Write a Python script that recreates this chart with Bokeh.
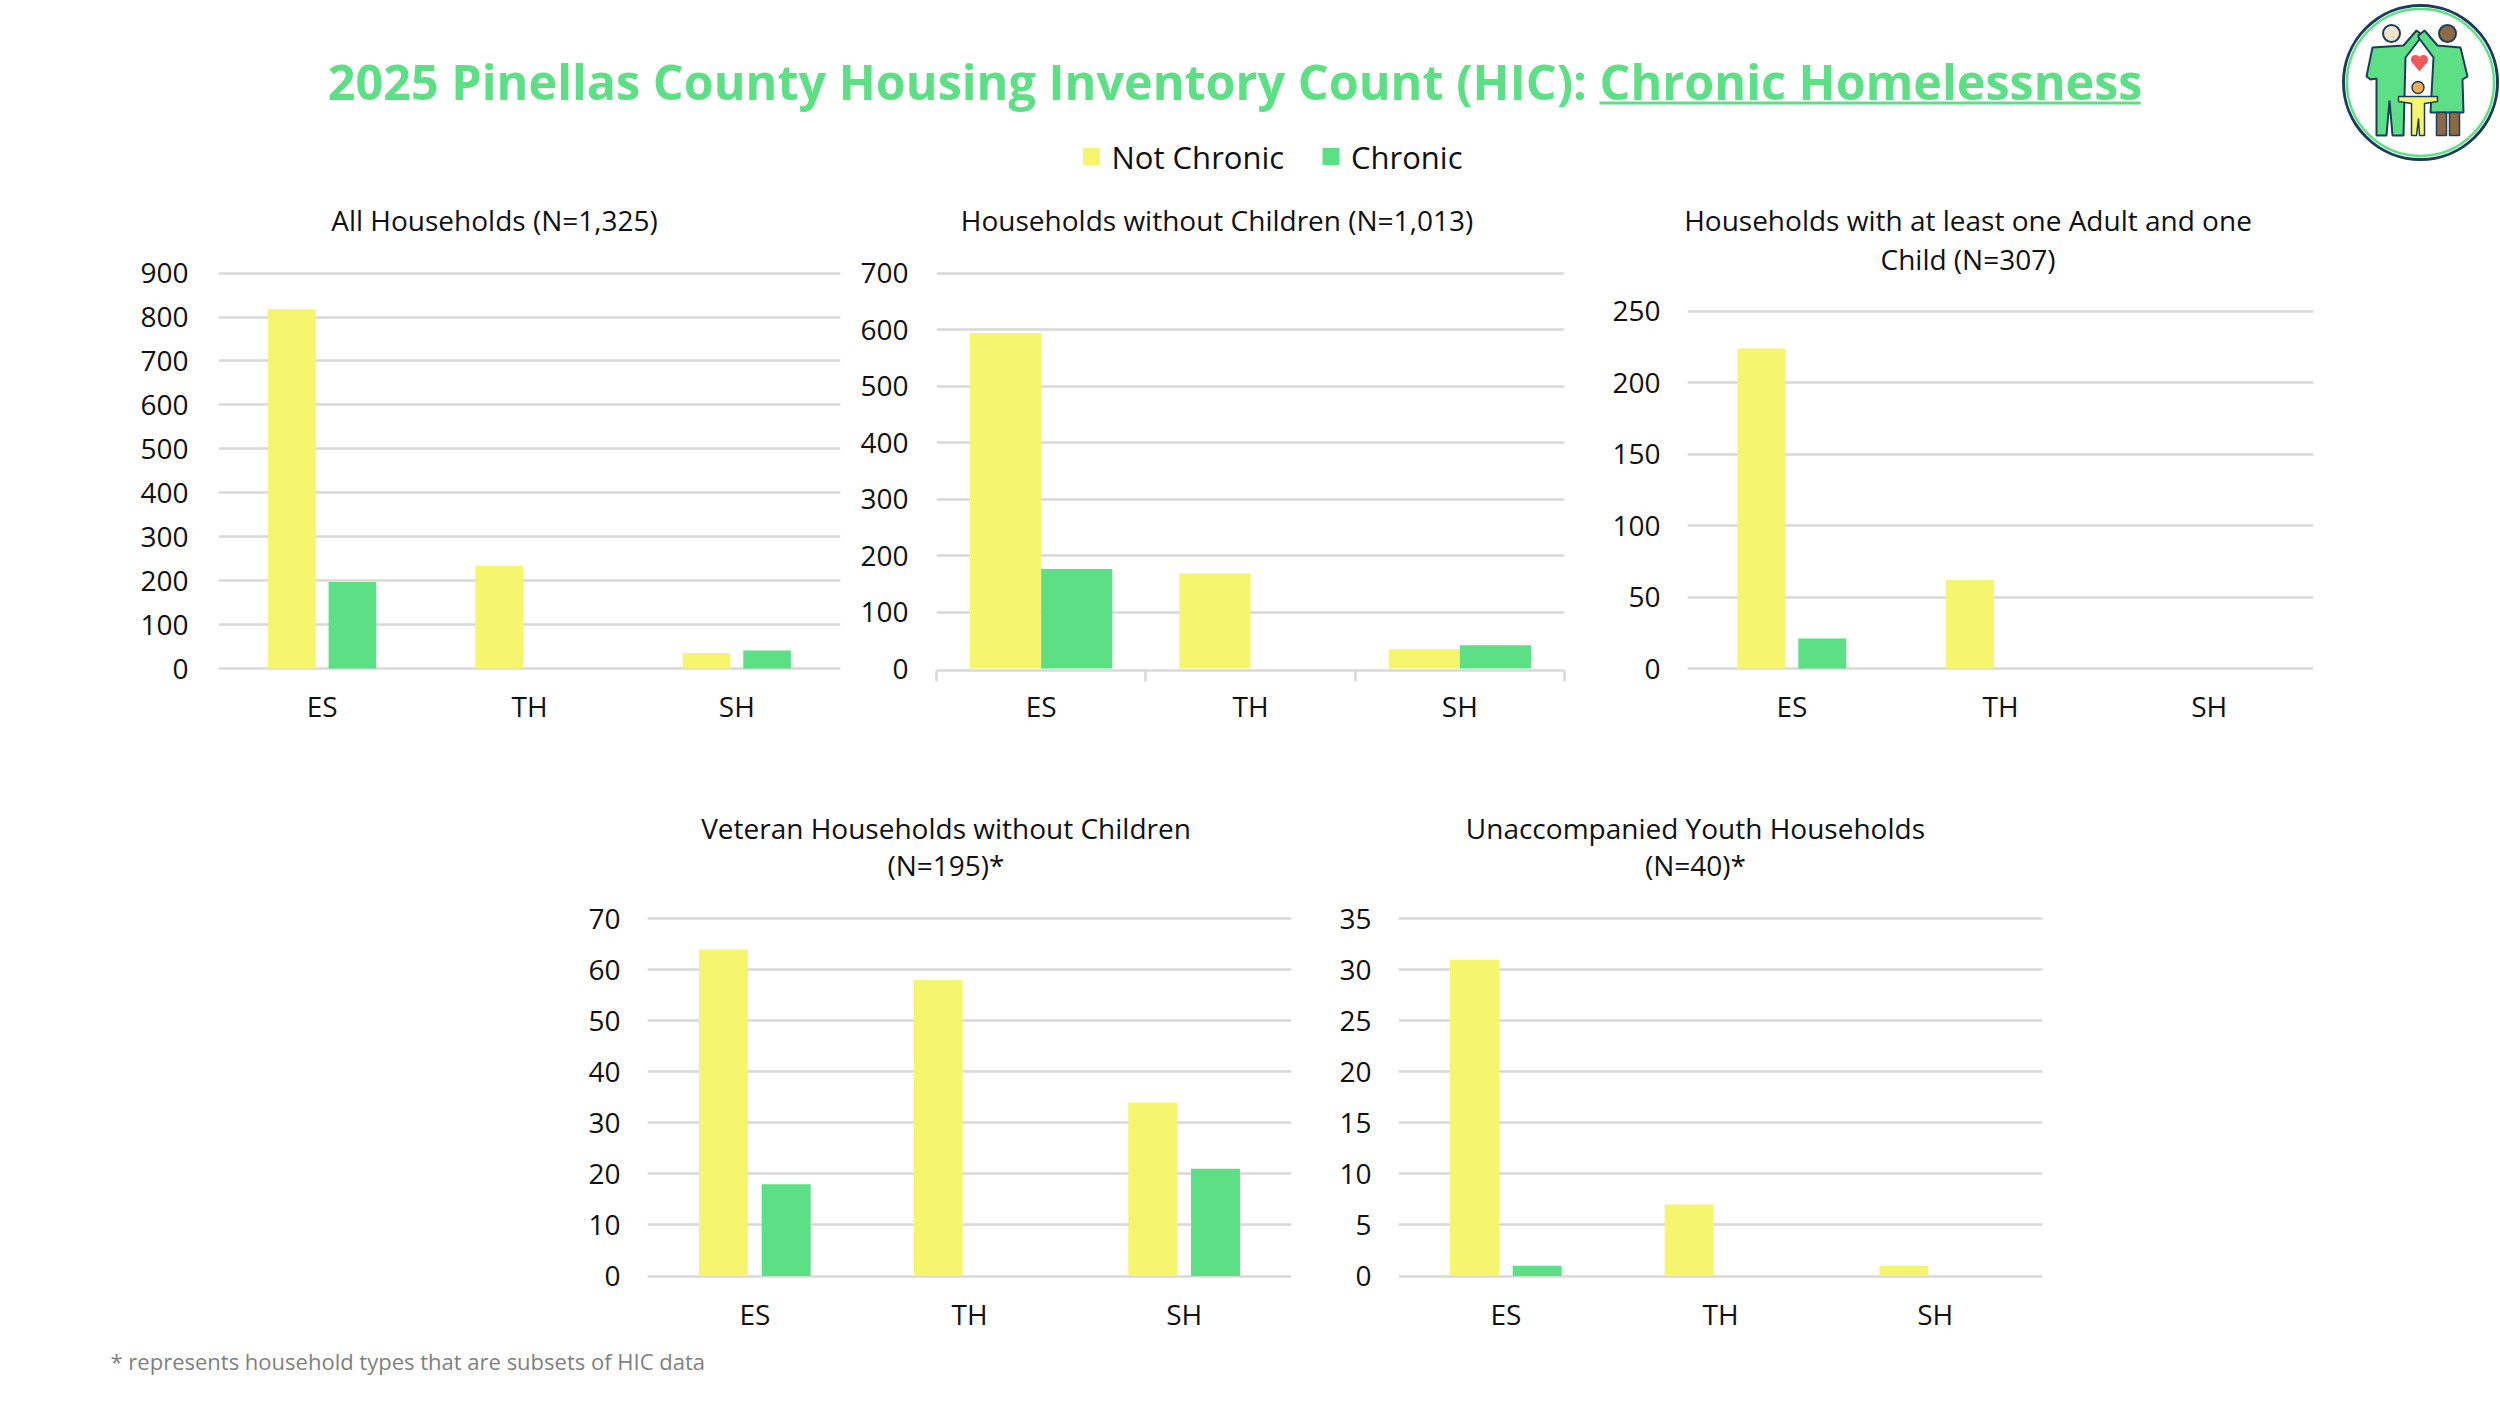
from bokeh.plotting import figure
from bokeh.models import Range1d, LinearAxis, FixedTicker, Spacer, Grid, ColumnDataSource
from bokeh.layouts import column, row
from bokeh.embed import file_html
from bokeh.resources import INLINE
from bokeh.core.properties import value

# ---------------- data ----------------
categories = ["ES", "TH", "SH"]
series_names = ["Not Chronic", "Chronic"]

all_not_chronic = [818, 234, 35]
all_chronic = [197, 0, 41]

no_children_not_chronic = [594, 168, 34]
no_children_chronic = [176, 0, 41]

adult_child_not_chronic = [224, 62, 0]
adult_child_chronic = [21, 0, 0]

veteran_not_chronic = [64, 58, 34]
veteran_chronic = [18, 0, 21]

youth_not_chronic = [31, 7, 1]
youth_chronic = [1, 0, 0]

chart_titles = [
    ["All Households (N=1,325)"],
    ["Households without Children (N=1,013)"],
    ["Households with at least one Adult and one", "Child (N=307)"],
    ["Veteran Households without Children", "(N=195)*"],
    ["Unaccompanied Youth Households", "(N=40)*"],
]
y_axis_max = [900, 700, 250, 70, 35]
y_axis_step = [100, 100, 50, 10, 5]

main_title_a = "2025 Pinellas County Housing Inventory Count (HIC): "
main_title_b = "Chronic Homelessness"
footnote = "* represents household types that are subsets of HIC data"

# ---------------- style ----------------
YELLOW = "#F5F56E"
GREEN = "#5DDF85"
GRID = "#D9D9D9"
TEXT = "#111111"
FONT_NAME = "Open Sans"
FONT = value(FONT_NAME)
FS = "28px"

HEADER_H = 238
ROW_B_TOP, ROW_B_H = 238, 507
ROW_C_TOP, ROW_C_H = 745, 595

# layout specs (pixels); first title line of the top row is drawn in the header
specs = [
    dict(left=0, top=ROW_B_TOP, h=ROW_B_H, w=850, fl=218, fr=840, ftop=238, ymax_px=272.6, zero_px=668, tx=494, tys=[219], gap=30, axis=False, bw=0.23, off=0.146),
    dict(left=850, top=ROW_B_TOP, h=ROW_B_H, w=740, fl=936, fr=1564, ftop=238, ymax_px=272.6, zero_px=668, tx=1216.5, tys=[219], gap=28, axis=True, bw=0.34, off=0.17),
    dict(left=1590, top=ROW_B_TOP, h=ROW_B_H, w=910, fl=1687, fr=2313, ftop=238, ymax_px=310.9, zero_px=668, tx=1967.5, tys=[219, 258], gap=27, axis=False, bw=0.23, off=0.146),
    dict(left=560, top=ROW_C_TOP, h=ROW_C_H, w=760, fl=647, fr=1291, ftop=790, ymax_px=918.4, zero_px=1275.5, tx=945.5, tys=[827.5, 864.2], gap=27, axis=False, bw=0.228, off=0.146),
    dict(left=1320, top=ROW_C_TOP, h=ROW_C_H, w=1180, fl=1398, fr=2042, ftop=790, ymax_px=918.4, zero_px=1275.5, tx=1694.9, tys=[827.5, 864.2], gap=27, axis=False, bw=0.228, off=0.146),
]

series = [
    (all_not_chronic, all_chronic),
    (no_children_not_chronic, no_children_chronic),
    (adult_child_not_chronic, adult_child_chronic),
    (veteran_not_chronic, veteran_chronic),
    (youth_not_chronic, youth_chronic),
]

PAD_B = 2


def make_chart(spec, nc, ch, title_lines, ymax, step):
    ppu = (spec["zero_px"] - spec["ymax_px"]) / ymax
    mbt = int(round(spec["ftop"] - spec["top"]))
    mbb = int(round(spec["top"] + spec["h"] - (spec["zero_px"] + PAD_B)))
    frame_top = spec["top"] + mbt
    frame_bottom = spec["top"] + spec["h"] - mbb
    frame_w = spec["fr"] - spec["fl"]
    p = figure(
        width=spec["w"], height=spec["h"],
        x_range=Range1d(0, len(categories)),
        y_range=Range1d((spec["zero_px"] - frame_bottom) / ppu,
                        (spec["zero_px"] - frame_top) / ppu),
        x_axis_type=None, y_axis_type=None,
        output_backend="svg", toolbar_location=None,
        min_border_left=int(round(spec["fl"] - spec["left"])),
        min_border_right=int(round(spec["left"] + spec["w"] - spec["fr"])),
        min_border_top=mbt, min_border_bottom=mbb,
    )
    p.outline_line_color = None
    p.background_fill_color = "white"
    p.border_fill_color = "white"

    ticks = list(range(0, ymax + 1, step))
    yticker = FixedTicker(ticks=ticks)
    yaxis = LinearAxis(
        ticker=yticker, axis_line_color=None,
        major_tick_line_color=None, minor_tick_line_color=None,
        major_tick_out=0, major_tick_in=0, minor_tick_out=0, minor_tick_in=0,
        major_label_standoff=spec["gap"],
        major_label_text_font=FONT_NAME, major_label_text_font_size=FS,
        major_label_text_color=TEXT,
    )
    p.add_layout(yaxis, "left")
    grid_ticks = ticks[1:] if spec["axis"] else ticks
    p.add_layout(Grid(dimension=1, ticker=FixedTicker(ticks=grid_ticks),
                      grid_line_color=GRID, grid_line_width=2.5))

    centers = [i + 0.5 for i in range(len(categories))]
    xticker = FixedTicker(ticks=centers, minor_ticks=list(range(len(categories) + 1)))
    xaxis = LinearAxis(
        ticker=xticker,
        major_label_overrides={c: lab for c, lab in zip(centers, categories)},
        major_tick_line_color=None, major_tick_out=0, major_tick_in=0,
        axis_line_color=GRID if spec["axis"] else None, axis_line_width=2.5,
        minor_tick_line_color=GRID if spec["axis"] else None,
        minor_tick_in=0, minor_tick_out=11 if spec["axis"] else 0,
        minor_tick_line_width=2.5,
        major_label_standoff=5 if spec["axis"] else 16,
        major_label_text_font=FONT_NAME, major_label_text_font_size=FS,
        major_label_text_color=TEXT,
    )
    p.add_layout(xaxis, "below")

    src = ColumnDataSource(dict(
        cat=categories,
        x_nc=[c - spec["off"] for c in centers],
        x_ch=[c + spec["off"] for c in centers],
        nc=nc, ch=ch,
    ))
    p.vbar(x="x_nc", top="nc", bottom=0, width=spec["bw"], source=src,
           fill_color=YELLOW, line_color=None)
    p.vbar(x="x_ch", top="ch", bottom=0, width=spec["bw"], source=src,
           fill_color=GREEN, line_color=None)

    # title lines that fall inside the frame are drawn here
    lx = (spec["tx"] - spec["fl"]) / frame_w * len(categories)
    for line, ty in zip(title_lines, spec["tys"]):
        if ty > frame_top:
            p.text(x=[lx], y=[(spec["zero_px"] - ty) / ppu], text=[line],
                   text_align="center", text_baseline="middle", text_font=FONT,
                   text_font_size=FS, text_color=TEXT)
    return p


charts = [make_chart(s, a, b, t, m, st) for s, (a, b), t, m, st in
          zip(specs, series, chart_titles, y_axis_max, y_axis_step)]

# ---------------- header ----------------
h = figure(width=2500, height=HEADER_H, x_range=Range1d(0, 2500), y_range=Range1d(HEADER_H, 0),
           x_axis_type=None, y_axis_type=None, output_backend="svg",
           toolbar_location=None, min_border=0)
h.outline_line_color = None

TFS = 48.5
split_x = 1599
h.text(x=[split_x], y=[80], text=[main_title_a], text_align="right",
       text_baseline="middle", text_font=FONT, text_font_style="bold",
       text_font_size=f"{TFS}px", text_color=GREEN)
h.text(x=[split_x], y=[80], text=[main_title_b], text_align="left",
       text_baseline="middle", text_font=FONT, text_font_style="bold",
       text_font_size=f"{TFS}px", text_color=GREEN)
ul_w = 11.16 * TFS
h.segment(x0=[split_x], y0=[102.5], x1=[split_x + ul_w], y1=[102.5],
          line_color=GREEN, line_width=3)

# legend
h.scatter(x=[1091, 1330.5], y=[156, 156], marker="square", size=17,
          fill_color=[YELLOW, GREEN], line_color=None)
h.text(x=[1111, 1350.5], y=[156, 156], text=series_names, text_align="left",
       text_baseline="middle", text_font=FONT, text_font_size="31px",
       text_color=TEXT)

# first title line of the top-row charts
for s, t in zip(specs, chart_titles):
    if s["tys"][0] < s["ftop"]:
        h.text(x=[s["tx"]], y=[s["tys"][0]], text=[t[0]], text_align="center",
               text_baseline="middle", text_font=FONT, text_font_size=FS,
               text_color=TEXT)

# logo (decoration)
NAVY = "#1D3C5A"
cx, cy = 2420, 82
h.circle(x=[cx], y=[cy], radius=77, fill_color="white", line_color=NAVY, line_width=3)
h.circle(x=[cx], y=[cy], radius=73.5, fill_color=None, line_color=GREEN, line_width=2.5)
h.patch(x=[2366, 2372, 2403, 2416, 2422, 2405, 2403, 2392, 2389, 2386, 2376, 2376, 2370],
        y=[76, 47, 45, 30, 35, 57, 135, 135, 100, 135, 135, 78, 79],
        fill_color=GREEN, line_color=NAVY, line_width=2)
h.patch(x=[2418, 2424, 2437, 2460, 2467, 2462, 2463, 2430, 2433, 2418],
        y=[35, 30, 45, 47, 76, 79, 112, 112, 57, 37],
        fill_color=GREEN, line_color=NAVY, line_width=2)
h.quad(left=[2436, 2449], right=[2446, 2459], top=[112, 112], bottom=[135, 135],
       fill_color="#8B6A45", line_color=NAVY, line_width=1.5)
h.circle(x=[2391, 2447], y=[33, 33], radius=8.5, fill_color=["#F3E3C8", "#8B6A45"],
         line_color=NAVY, line_width=2)
h.circle(x=[2415, 2423], y=[59, 59], radius=4.5, fill_color="#EE5A5A", line_color=None)
h.patch(x=[2410.7, 2427.3, 2419], y=[61, 61, 71], fill_color="#EE5A5A", line_color=None)
h.patch(x=[2398, 2437, 2437, 2424, 2424, 2419, 2418, 2416, 2411, 2411, 2398],
        y=[96, 96, 101, 103, 135, 135, 118, 135, 135, 103, 101],
        fill_color=YELLOW, line_color=NAVY, line_width=1.5)
h.circle(x=[2417.5], y=[87], radius=6, fill_color="#EFAE52", line_color=NAVY, line_width=1.5)

# ---------------- footnote ----------------
f = figure(width=2500, height=66, x_range=Range1d(0, 2500), y_range=Range1d(66, 0),
           x_axis_type=None, y_axis_type=None, output_backend="svg",
           toolbar_location=None, min_border=0)
f.outline_line_color = None
f.text(x=[110], y=[20], text=[footnote], text_align="left", text_baseline="middle",
       text_font=FONT, text_font_size="22px", text_color="#7F7F7F")

layout = column(
    h,
    row(charts[0], charts[1], charts[2]),
    row(Spacer(width=560, height=ROW_C_H), charts[3], charts[4]),
    f,
)

open("out.html", "w").write(file_html(layout, INLINE))
